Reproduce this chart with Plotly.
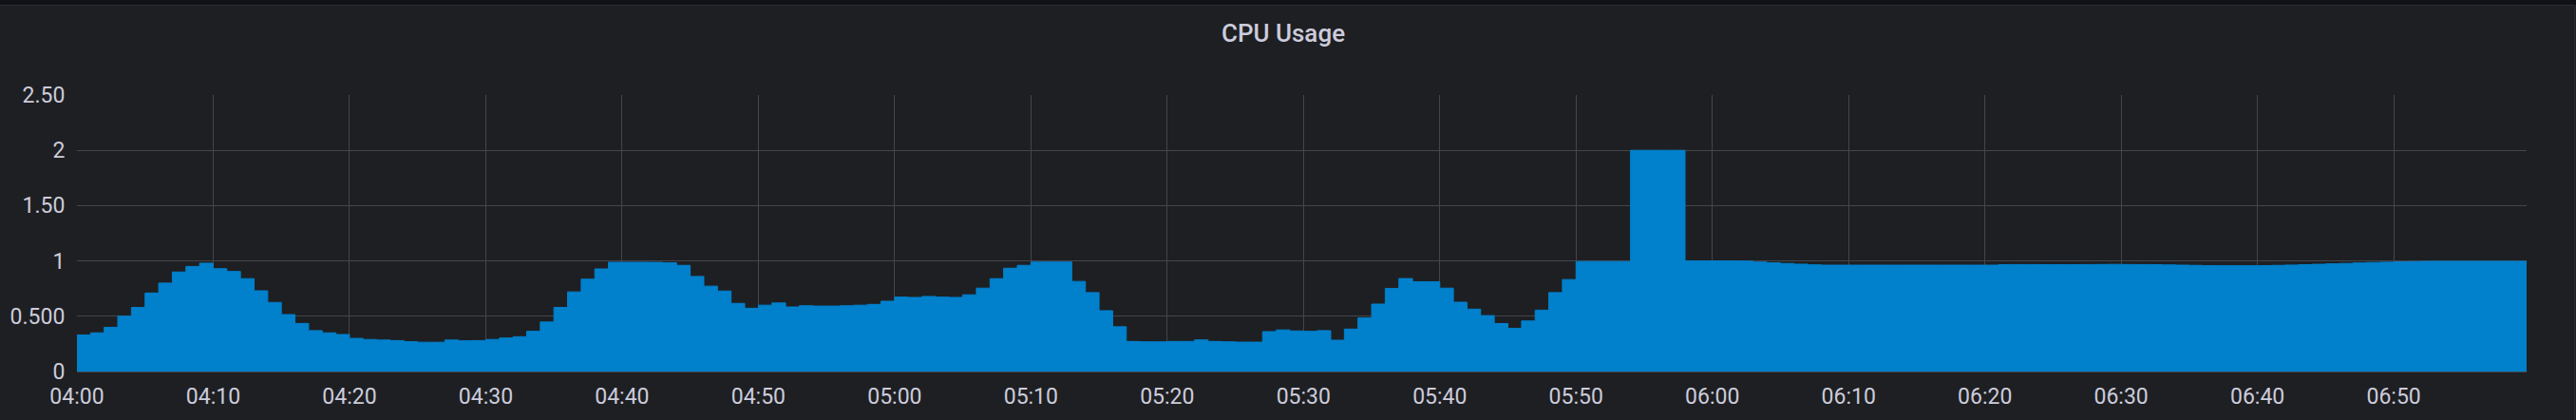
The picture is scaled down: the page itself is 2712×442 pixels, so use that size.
import pandas as pd
import plotly.graph_objects as go

START_TIME = "2024-01-01 04:00:00"
END_TIME = "2024-01-01 06:59:45"

# CPU usage, one sample per minute from 04:00
CPU_VALUES = [
    0.33, 0.35, 0.40, 0.50, 0.58, 0.71, 0.80, 0.90, 0.95, 0.98,
    0.93, 0.905, 0.84, 0.73, 0.625, 0.515, 0.435, 0.37, 0.35, 0.335,
    0.30, 0.29, 0.285, 0.28, 0.27, 0.265, 0.265, 0.285, 0.278, 0.28,
    0.29, 0.303, 0.315, 0.364, 0.448, 0.58, 0.72, 0.835, 0.928, 0.988,
    0.988, 0.988, 0.987, 0.983, 0.96, 0.86, 0.772, 0.728, 0.616, 0.572,
    0.60, 0.62, 0.584, 0.595, 0.592, 0.592, 0.595, 0.60, 0.607, 0.636,
    0.673, 0.67, 0.679, 0.673, 0.67, 0.694, 0.754, 0.84, 0.934, 0.96,
    0.99, 0.99, 0.99, 0.815, 0.714, 0.55, 0.405, 0.272, 0.269, 0.269,
    0.272, 0.272, 0.286, 0.272, 0.269, 0.266, 0.266, 0.361, 0.376, 0.367,
    0.364, 0.37, 0.283, 0.384, 0.486, 0.61, 0.751, 0.841, 0.812, 0.812,
    0.754, 0.627, 0.564, 0.506, 0.434, 0.39, 0.457, 0.555, 0.714, 0.832,
    0.995, 0.995, 0.995, 0.995, 2.0, 2.0, 2.0, 2.0, 1.0, 1.0,
    1.0, 1.0, 0.998, 0.99, 0.983, 0.977, 0.971, 0.965, 0.962, 0.962,
    0.962, 0.962, 0.962, 0.962, 0.962, 0.962, 0.962, 0.962, 0.962, 0.962,
    0.962, 0.966, 0.967, 0.967, 0.966, 0.966, 0.966, 0.967, 0.968, 0.969,
    0.968, 0.967, 0.966, 0.964, 0.962, 0.960, 0.958, 0.957, 0.957, 0.957,
    0.958, 0.960, 0.963, 0.966, 0.970, 0.974, 0.978, 0.982, 0.986, 0.989,
    0.992, 0.994, 0.996, 0.997, 0.997, 0.997, 0.997, 0.997, 0.997, 0.997,
]

Y_TICKS = [0, 0.5, 1, 1.5, 2, 2.5]
Y_TICK_TEXT = ["0", "0.500", "1", "1.50", "2", "2.50"]

BLUE = "#0180cc"
TEXT = "#ccccdc"
GRID = "#45464b"
PANEL_BG = "#1e1f22"

times = list(pd.date_range(START_TIME, periods=len(CPU_VALUES), freq="1min"))
times.append(pd.Timestamp(END_TIME))
values = CPU_VALUES + [CPU_VALUES[-1]]

fig = go.Figure()
fig.add_trace(
    go.Scatter(
        x=times,
        y=values,
        mode="lines",
        line={"color": BLUE, "width": 1, "shape": "hv"},
        fill="tozeroy",
        fillcolor=BLUE,
        name="CPU",
        hovertemplate="%{x|%H:%M}<br>%{y:.3f}<extra></extra>",
    )
)

# panel chrome: dark strip along the top and a thin border
H, W = 442, 2712
L, R, T, B = 81, 52, 100, 51
pw, ph = W - L - R, H - T - B


def px_x(px):
    return (px - L) / pw


def px_y(py):
    return (H - B - py) / ph


fig.add_shape(type="rect", xref="paper", yref="paper",
              x0=px_x(-5), x1=px_x(W + 5), y0=px_y(5), y1=px_y(-5),
              fillcolor="#111217", line_width=0, layer="below")
fig.add_shape(type="line", xref="paper", yref="paper",
              x0=px_x(0), x1=px_x(2710), y0=px_y(5.5), y1=px_y(5.5),
              line={"color": "#2c2d32", "width": 1})
fig.add_shape(type="line", xref="paper", yref="paper",
              x0=px_x(2710.5), x1=px_x(2710.5), y0=px_y(H + 5), y1=px_y(5.5),
              line={"color": "#2c2d32", "width": 1})

fig.update_layout(
    width=W,
    height=H,
    margin={"l": L, "r": R, "t": T, "b": B},
    paper_bgcolor=PANEL_BG,
    plot_bgcolor=PANEL_BG,
    showlegend=False,
    font={"family": "Roboto, sans-serif", "color": TEXT, "size": 23},
    title={
        "text": "CPU Usage",
        "font": {"size": 26, "color": TEXT, "weight": 500},
        "x": 1351 / W,
        "xanchor": "center",
        "xref": "container",
        "y": 1 - 35 / H,
        "yanchor": "middle",
        "yref": "container",
        "automargin": False,
    },
    xaxis={
        "range": [START_TIME, END_TIME],
        "tickformat": "%H:%M",
        "dtick": 600000,
        "tick0": START_TIME,
        "showgrid": True,
        "gridcolor": GRID,
        "gridwidth": 1,
        "ticks": "outside",
        "ticklen": 5,
        "tickcolor": "rgba(0,0,0,0)",
        "showline": True,
        "linecolor": GRID,
        "zeroline": False,
        "automargin": False,
    },
    yaxis={
        "range": [0, 2.5],
        "tickvals": Y_TICKS,
        "ticktext": Y_TICK_TEXT,
        "showgrid": True,
        "gridcolor": GRID,
        "gridwidth": 1,
        "ticks": "outside",
        "ticklen": 7,
        "tickcolor": "rgba(0,0,0,0)",
        "zeroline": False,
        "automargin": False,
    },
)

fig.write_html(
    "out.html",
    config={"displayModeBar": False},
    post_script="document.body.style.margin='0';",
)
